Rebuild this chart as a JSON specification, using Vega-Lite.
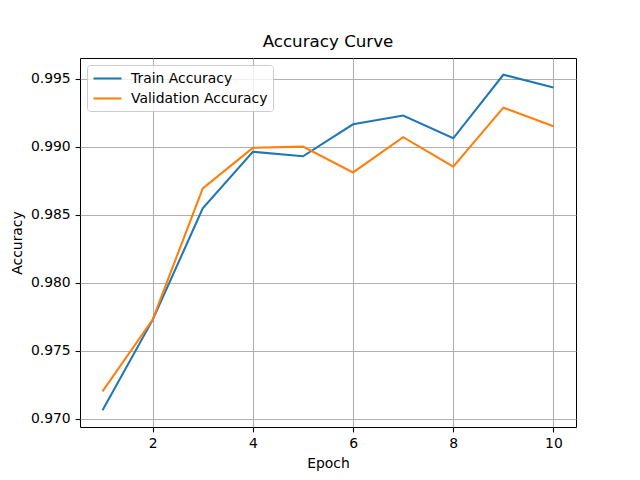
{
  "$schema": "https://vega.github.io/schema/vega-lite/v6.json",
  "autosize": {"type": "none"},
  "width": 496,
  "height": 369,
  "padding": {"left": 80, "top": 58, "right": 64, "bottom": 53},
  "background": "white",
  "title": {"text": "Accuracy Curve", "fontSize": 16.7, "fontWeight": "normal", "font": "DejaVu Sans", "color": "black", "offset": 7},
  "data": {"values": [
    {"epoch": 1, "series": "Train Accuracy", "acc": 0.97064},
    {"epoch": 2, "series": "Train Accuracy", "acc": 0.97728},
    {"epoch": 3, "series": "Train Accuracy", "acc": 0.98547},
    {"epoch": 4, "series": "Train Accuracy", "acc": 0.98963},
    {"epoch": 5, "series": "Train Accuracy", "acc": 0.98930},
    {"epoch": 6, "series": "Train Accuracy", "acc": 0.99165},
    {"epoch": 7, "series": "Train Accuracy", "acc": 0.99229},
    {"epoch": 8, "series": "Train Accuracy", "acc": 0.99062},
    {"epoch": 9, "series": "Train Accuracy", "acc": 0.99529},
    {"epoch": 10, "series": "Train Accuracy", "acc": 0.99436},
    {"epoch": 1, "series": "Validation Accuracy", "acc": 0.97203},
    {"epoch": 2, "series": "Validation Accuracy", "acc": 0.97730},
    {"epoch": 3, "series": "Validation Accuracy", "acc": 0.98694},
    {"epoch": 4, "series": "Validation Accuracy", "acc": 0.98992},
    {"epoch": 5, "series": "Validation Accuracy", "acc": 0.99001},
    {"epoch": 6, "series": "Validation Accuracy", "acc": 0.98811},
    {"epoch": 7, "series": "Validation Accuracy", "acc": 0.99070},
    {"epoch": 8, "series": "Validation Accuracy", "acc": 0.98853},
    {"epoch": 9, "series": "Validation Accuracy", "acc": 0.99287},
    {"epoch": 10, "series": "Validation Accuracy", "acc": 0.99150}
  ]},
  "mark": {"type": "line", "strokeWidth": 2.08, "clip": true},
  "encoding": {
    "x": {"field": "epoch", "type": "quantitative", "title": "Epoch",
      "scale": {"domain": [0.55, 10.45], "nice": false, "zero": false},
      "axis": {"values": [2, 4, 6, 8, 10], "format": "d"}},
    "y": {"field": "acc", "type": "quantitative", "title": "Accuracy",
      "scale": {"domain": [0.96941, 0.99652], "nice": false, "zero": false},
      "axis": {"values": [0.970, 0.975, 0.980, 0.985, 0.990, 0.995], "format": ".3f"}},
    "color": {"field": "series", "type": "nominal",
      "scale": {"domain": ["Train Accuracy", "Validation Accuracy"], "range": ["#1f77b4", "#ff7f0e"]},
      "legend": {"title": null, "orient": "none", "legendX": 7, "legendY": 7,
        "symbolType": "M-1,0H3", "symbolSize": 196, "symbolStrokeWidth": 2.08,
        "labelFontSize": 13.9, "labelFont": "DejaVu Sans", "labelColor": "black", "labelOffset": 22,
        "fillColor": "rgba(255,255,255,0.8)", "strokeColor": "#cccccc", "cornerRadius": 3,
        "padding": 5, "rowPadding": 4}}
  },
  "config": {
    "font": "DejaVu Sans",
    "view": {"stroke": "black", "strokeWidth": 1},
    "axis": {
      "domain": false,
      "grid": true, "gridColor": "#b0b0b0", "gridWidth": 1.1, "gridOpacity": 1,
      "tickColor": "black", "tickSize": 4.9, "tickWidth": 1.1,
      "labelFontSize": 13.9, "labelColor": "black", "labelFont": "DejaVu Sans", "labelPadding": 4.9,
      "titleFontSize": 13.9, "titleFontWeight": "normal", "titleColor": "black", "titleFont": "DejaVu Sans", "titlePadding": 5.6
    }
  }
}
